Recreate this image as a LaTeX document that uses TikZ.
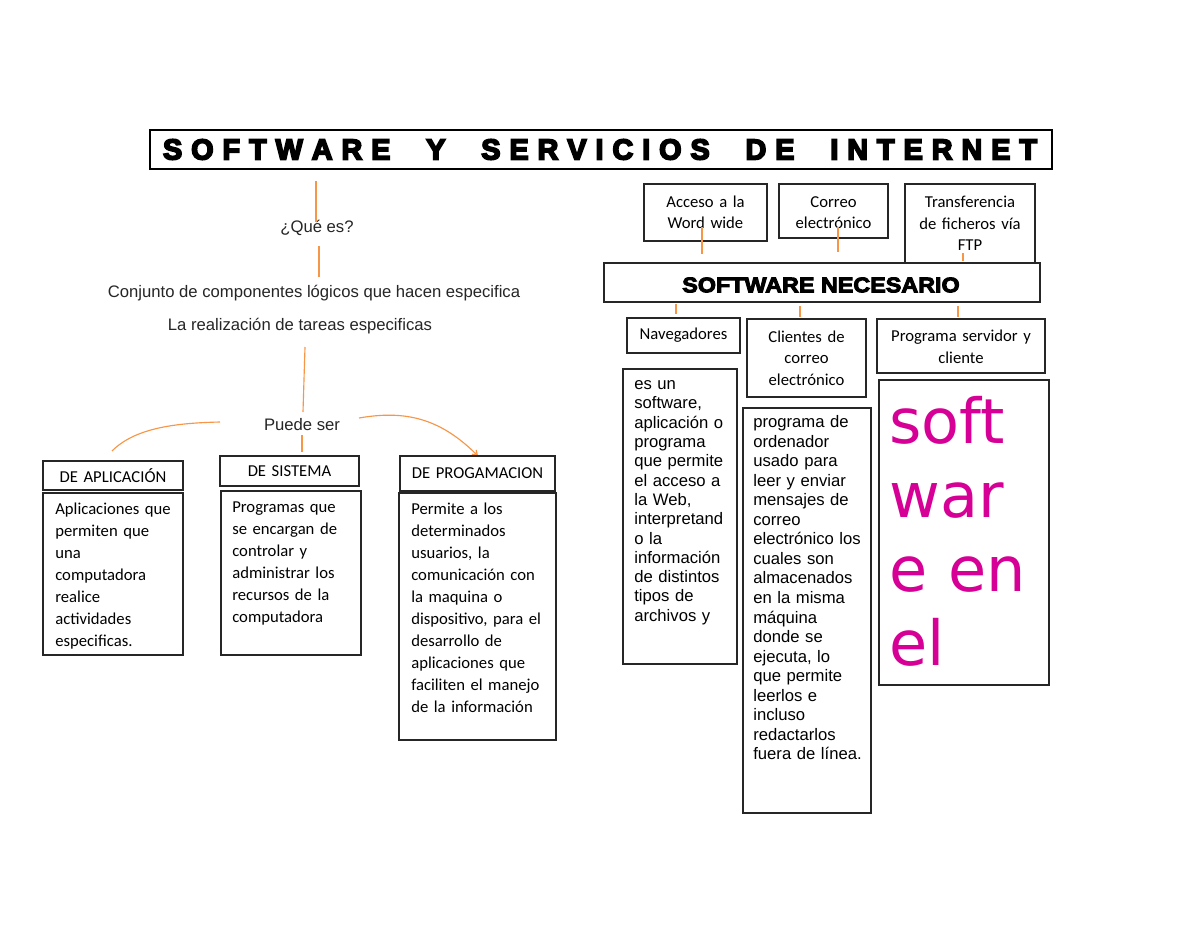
\documentclass[tikz,border=0pt]{standalone}
\usepackage{fontspec}
\setmainfont{Carlito}
\newfontfamily\arialf{Liberation Sans}
\newfontfamily\heavyf{Liberation Sans Bold}[FakeBold=6]
\newfontfamily\heavyg{Liberation Sans Bold}[FakeBold=4.5,FakeStretch=1.1]
\newfontfamily\dejaf{DejaVu Sans}
\usetikzlibrary{fit,arrows.meta}
\definecolor{orangeline}{RGB}{247,150,70}
\definecolor{magentatext}{RGB}{214,0,150}
\begin{document}
\begin{tikzpicture}[x=0.66pt,y=-0.66pt,
  box/.style={draw=black!85, line width=0.7pt, inner sep=0pt, fit={#1}},
  conn/.style={draw=orangeline, line width=0.75pt},
  lbl/.style={font=\fontsize{11}{14.2}\selectfont, align=center, inner sep=0pt, text width=110pt},
  body/.style={font=\fontsize{11}{14.52}\selectfont, align=left, inner sep=0pt, text width=150pt, anchor=north west},
  arialtxt/.style={font=\arialf\fontsize{11}{13}\selectfont, inner sep=0pt, text=black!85},
]
\fill[white] (0,0) rectangle (1200,927);
\useasboundingbox (0,0) rectangle (1200,927);

% ---------- title ----------
\node[box={(150,130)(1052,169)}, line width=1pt, draw=black] (title) {};
\node[inner sep=0pt, font=\heavyf\fontsize{19}{20}\selectfont] (titletext) at (600,149.5)
 {\hbox to 576.8pt{S\hfil O\hfil F\hfil T\hfil W\hfil A\hfil R\hfil E\hskip 0pt plus 4fil
  Y\hskip 0pt plus 4fil
  S\hfil E\hfil R\hfil V\hfil I\hfil C\hfil I\hfil O\hfil S\hskip 0pt plus 4fil
  D\hfil E\hskip 0pt plus 4fil
  I\hfil N\hfil T\hfil E\hfil R\hfil N\hfil E\hfil T}};

% ---------- left branch ----------
\node[arialtxt] (que) at (317,228) {¿Qué es?};
\node[arialtxt] (conj) at (314,293) {Conjunto de componentes lógicos que hacen especifica};
\node[arialtxt] (real) at (300,326) {La realización de tareas especificas};
\node[arialtxt] (puede) at (302,425) {Puede ser};

\coordinate (qa) at (316,181); \coordinate (qb) at (316,222);
\coordinate (ca) at (319,246); \coordinate (cb) at (319,277);
\coordinate (ra) at (305,347); \coordinate (rb) at (303,412);
\coordinate (la) at (220,422); \coordinate (lb) at (112,451);
\coordinate (ma) at (302,435); \coordinate (mb) at (302,452);
\coordinate (pa) at (359,418); \coordinate (pb) at (478,456);
\draw[conn] (qa) -- (qb);
\draw[conn] (ca) -- (cb);
\draw[conn] (ra) -- (rb);
\draw[conn] (la) .. controls (175,423) and (135,428) .. (lb);
\draw[conn] (ma) -- (mb);
\draw[conn, -{Straight Barb[length=3pt,width=4pt]}] (pa) .. controls (405,410) and (440,418) .. (pb);

% headers
\node[box={(43,461)(183,490)}] (hApp) {};
\node[lbl] (hAppT) at (hApp.center) {DE APLICACIÓN};
\node[box={(220,456)(359,486)}] (hSis) {};
\node[lbl] (hSisT) at (hSis.center) {DE SISTEMA};
\node[box={(400,456)(555,491)}] (hProg) {};
\node[lbl] (hProgT) at (hProg.center) {DE PROGAMACION};

% bodies
\node[box={(43,493)(183,655)}] (bApp) {};
\node[body] (bAppT) at (55,498.5) {\strut Aplicaciones que\\permiten que\\una\\computadora\\realice\\actividades\\especificas.};
\node[box={(221,491)(361,655)}] (bSis) {};
\node[body] (bSisT) at (232,496.5) {\strut Programas que\\se encargan de\\controlar y\\administrar los\\recursos de la\\computadora};
\node[box={(399,493)(556,740)}] (bProg) {};
\node[body] (bProgT) at (411,498.5) {\strut Permite a los\\determinados\\usuarios, la\\comunicación con\\la maquina o\\dispositivo, para el\\desarrollo de\\aplicaciones que\\faciliten el manejo\\de la información};

% ---------- right branch ----------
\node[box={(644,184)(767,241)}] (acc) {};
\node[lbl] (accT) at (705.5,212.5) {Acceso a la\\Word wide};
\node[box={(779,184)(888,238)}] (cor) {};
\node[lbl] (corT) at (833.5,212.5) {Correo\\electrónico};
\node[box={(905,184)(1035,263)}] (tra) {};
\node[lbl] (traT) at (970,223.5) {Transferencia\\de ficheros vía\\FTP};

\node[box={(604,263)(1040,302)}] (nec) {};
\node[inner sep=0pt, font=\heavyg\fontsize{14}{16}\selectfont] (necT) at (821,285) {SOFTWARE NECESARIO};

\node[box={(627,318)(740,353)}] (nav) {};
\node[lbl] (navT) at (683.5,335.5) {Navegadores};
\node[box={(747,319)(866,397)}] (cli) {};
\node[lbl] (cliT) at (806.5,358) {Clientes de\\correo\\electrónico};
\node[box={(877,319)(1045,373)}] (pro) {};
\node[lbl] (proT) at (961,347) {Programa servidor y\\cliente};

\coordinate (a1) at (702,227); \coordinate (a2) at (702,254);
\coordinate (b1) at (838,227); \coordinate (b2) at (838,252);
\coordinate (c1) at (963,253); \coordinate (c2) at (963,261);
\coordinate (d1) at (676,304); \coordinate (d2) at (676,314);
\coordinate (e1) at (800,306); \coordinate (e2) at (800,317);
\coordinate (f1) at (958,306); \coordinate (f2) at (958,317);
\draw[conn] (a1) -- (a2);
\draw[conn] (b1) -- (b2);
\draw[conn] (c1) -- (c2);
\draw[conn] (d1) -- (d2);
\draw[conn] (e1) -- (e2);
\draw[conn] (f1) -- (f2);

\node[box={(623,369)(737,664)}] (navD) {};
\node[body, font=\arialf\fontsize{11}{12.74}\selectfont] (navDT) at (634,375.8)
 {\strut es un\\software,\\aplicación o\\programa\\que permite\\el acceso a\\la Web,\\interpretand\\o la\\información\\de distintos\\tipos de\\archivos y};

\node[box={(743,408)(871,813)}] (cliD) {};
\node[body, font=\arialf\fontsize{11}{12.9}\selectfont] (cliDT) at (753,413.6)
 {\strut programa de\\ordenador\\usado para\\leer y enviar\\mensajes de\\correo\\electrónico los\\cuales son\\almacenados\\en la misma\\máquina\\donde se\\ejecuta, lo\\que permite\\leerlos e\\incluso\\redactarlos\\fuera de línea.};

\node[box={(879,380)(1049,685)}] (proD) {};
\node[body, font=\dejaf\fontsize{41}{48.84}\selectfont, text=magentatext, text width=200pt] (proDT) at (889,391)
 {\strut soft\\war\\e en\\el};
\end{tikzpicture}
\end{document}
